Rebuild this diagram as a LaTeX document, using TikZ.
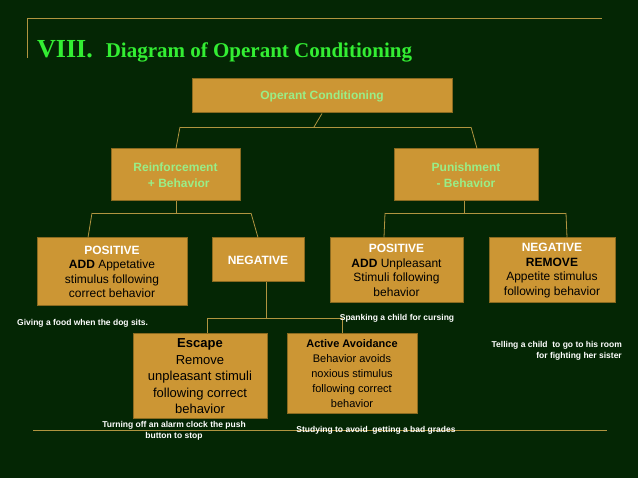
\documentclass[tikz,border=0pt]{standalone}
\usepackage{fontspec}
\setmainfont{Liberation Sans}
\newfontfamily\titlefont{Liberation Serif}
\begin{document}
\begin{tikzpicture}[x=1pt,y=-1pt,
 box/.style={draw=gbord,fill=gold,line width=1pt,inner sep=0pt,align=center,text=black,font=\fontsize{12}{14.5}\selectfont},
 top/.style={box,text=lgreen,font=\fontsize{12}{16}\selectfont\bfseries},
 ln/.style={draw=gline,line width=0.8pt},
 ex/.style={text=white,font=\fontsize{8.5}{10.5}\selectfont\bfseries,align=center,inner sep=0pt}]
\definecolor{bg}{HTML}{042604}
\definecolor{gold}{HTML}{CC9634}
\definecolor{gbord}{HTML}{8A6A20}
\definecolor{lgreen}{HTML}{99EE88}
\definecolor{gline}{HTML}{B09440}
\definecolor{tgreen}{HTML}{33EE33}
\fill[bg] (0,0) rectangle (638,478);
\useasboundingbox (0,0) rectangle (638,478);
\draw[ln] (27,58) -- (27,18) -- (602,18);
\draw[ln] (33,430) -- (607,430);
\node[anchor=base west,text=tgreen,inner sep=0pt] (title) at (37,58) {\titlefont\fontsize{26}{28}\selectfont\bfseries VIII.\ \ \fontsize{21}{24}\selectfont Diagram of Operant Conditioning};
\node[top,minimum width=260,minimum height=34] (oc) at (322,96) {Operant Conditioning};
\node[top,minimum width=129,minimum height=52] (re) at (175.5,175) {Reinforcement\\\ \ + Behavior};
\node[top,minimum width=144,minimum height=52] (pu) at (466,175) {Punishment\\- Behavior};
\node[box,minimum width=150,minimum height=68] (pl) at (112,272) {\textcolor{white}{\bfseries POSITIVE}\\\textbf{ADD} Appetative\\stimulus following\\correct behavior};
\node[box,minimum width=92,minimum height=44,text=white,font=\fontsize{12}{14}\selectfont\bfseries] (nl) at (258,260) {NEGATIVE};
\node[box,minimum width=133,minimum height=65] (pr) at (396.5,270.5) {\textcolor{white}{\bfseries POSITIVE}\\\textbf{ADD} Unpleasant\\Stimuli following\\behavior};
\node[box,minimum width=126,minimum height=65] (nr) at (552,270.5) {\textcolor{white}{\bfseries NEGATIVE}\\\textbf{REMOVE}\\Appetite stimulus\\following behavior};
\node[box,minimum width=134,minimum height=85,font=\fontsize{13}{16.5}\selectfont] (es) at (200,376.5) {\textbf{Escape}\\Remove\\unpleasant stimuli\\following correct\\behavior};
\node[box,minimum width=130,minimum height=80,font=\fontsize{11}{15}\selectfont] (aa) at (352,374) {\textbf{Active Avoidance}\\Behavior avoids\\noxious stimulus\\following correct\\behavior};
\coordinate (j1) at (314,127);
\draw[ln] (oc.south) -- (j1);
\draw[ln] (oc.south |- j1) ++(0,0) (180,127) -- (471,127);
\draw[ln] (180,127) -- (re.north -| 176,0);
\draw[ln] (471,127) -- (pu.north -| 477,0);
\draw[ln] (re.south -| 176,0) -- (176,213);
\draw[ln] (92,213) -- (251,213);
\draw[ln] (92,213) -- (pl.north -| 88,0);
\draw[ln] (251,213) -- (nl.north -| 258,0);
\draw[ln] (pu.south -| 464,0) -- (464,213);
\draw[ln] (385,213) -- (566,213);
\draw[ln] (385,213) -- (pr.north -| 384,0);
\draw[ln] (566,213) -- (nr.north -| 567,0);
\draw[ln] (nl.south -| 266,0) -- (266,318);
\draw[ln] (207,318) -- (342,318);
\draw[ln] (207,318) -- (es.north -| 207,0);
\draw[ln] (342,318) -- (aa.north -| 342,0);
\node[ex,anchor=west] (e1) at (17,323) {Giving a food when the dog sits.};
\node[ex] (e2) at (397,318) {Spanking a child for cursing};
\node[ex,align=right,anchor=east] (e3) at (622,351) {Telling a child\ \ to go to his room\\for fighting her sister};
\node[ex] (e4) at (174,431) {Turning off an alarm clock the push\\button to stop};
\node[ex] (e5) at (376,430) {Studying to avoid\ \ getting a bad grades};
\end{tikzpicture}
\end{document}
